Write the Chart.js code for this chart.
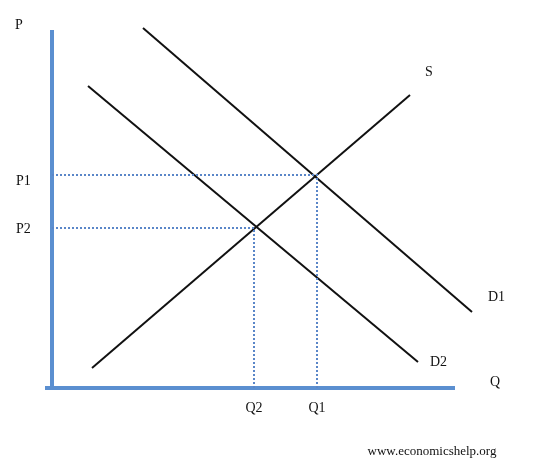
<!DOCTYPE html>
<html><head><meta charset="utf-8">
<script src="https://cdn.jsdelivr.net/npm/chart.js@4"></script>
<style>html,body{margin:0;padding:0;background:#fff}#c{width:540px;height:469px}</style>
</head><body><div id="c"><canvas id="cv" width="540" height="469"></canvas></div>
<script>
const supply = [{x:40,y:20},{x:358,y:293}];
const demand1 = [{x:91,y:360},{x:420,y:76}];
const demand2 = [{x:36,y:302},{x:366,y:26}];
const eq1 = {q:265, p:213};
const eq2 = {q:202, p:160};
const priceLabels = ['P1','P2'];
const qtyLabels = ['Q1','Q2'];
const curveLabels = [{t:'S',x:373,y:316},{t:'D1',x:436,y:91},{t:'D2',x:378,y:26}];
const axisLabels = [{t:'P',x:-37,y:363},{t:'Q',x:438,y:6}];

const blue='#5b8fd0';
const dot={borderColor:'#5a86c8',borderWidth:2,borderDash:[2,2],pointRadius:0,showLine:true,fill:false};
const black={borderColor:'#111',borderWidth:2,pointRadius:0,showLine:true,fill:false};
const textPlugin={id:'txt',afterDatasetsDraw(ch){
  const c=ch.ctx,xs=ch.scales.x,ys=ch.scales.y;
  c.save();c.fillStyle='#111';c.font='14px "Liberation Serif"';c.textBaseline='middle';
  const put=(t,x,y,a)=>{c.textAlign=a||'left';c.fillText(t,xs.getPixelForValue(x),ys.getPixelForValue(y));};
  curveLabels.forEach(l=>put(l.t,l.x,l.y));
  axisLabels.forEach(l=>put(l.t,l.x,l.y));
  put(priceLabels[0],-36,eq1.p-6);put(priceLabels[1],-36,eq2.p-1);
  put(qtyLabels[0],eq1.q,-20,'center');put(qtyLabels[1],eq2.q,-20,'center');
  c.font='13px "Liberation Serif"';put('www.economicshelp.org',380,-64,'center');
  c.restore();}};
new Chart(document.getElementById('cv'),{type:'scatter',
 data:{datasets:[
  {...dot,data:[{x:0,y:eq1.p},{x:eq1.q,y:eq1.p},{x:eq1.q,y:0}]},
  {...dot,data:[{x:0,y:eq2.p},{x:eq2.q,y:eq2.p},{x:eq2.q,y:0}]},
  {...black,data:supply},{...black,data:demand1},{...black,data:demand2},
  {borderColor:blue,borderWidth:4,pointRadius:0,showLine:true,data:[{x:0,y:358},{x:0,y:-1}]},
  {borderColor:blue,borderWidth:4,pointRadius:0,showLine:true,data:[{x:-7,y:0},{x:403,y:0}]}
 ]},
 options:{responsive:false,animation:false,clip:false,
  layout:{padding:{left:52,right:68,top:28,bottom:81}},
  plugins:{legend:{display:false},tooltip:{enabled:false}},
  scales:{x:{type:'linear',min:0,max:420,display:false},y:{type:'linear',min:0,max:360,display:false}}},
 plugins:[textPlugin]});
</script></body></html>
